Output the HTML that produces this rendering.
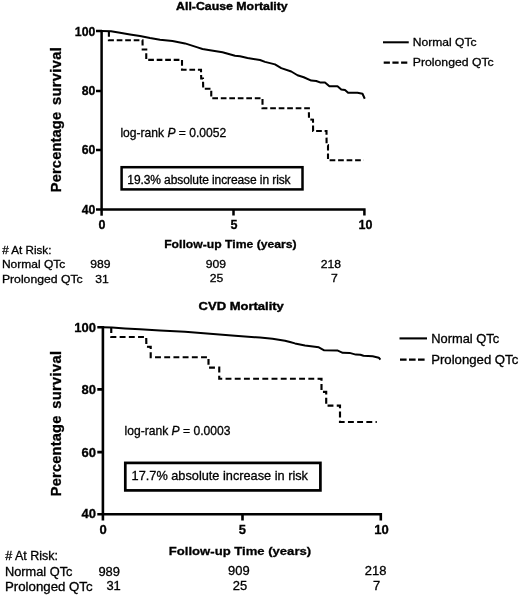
<!DOCTYPE html>
<html><head><meta charset="utf-8"><title>Survival curves</title>
<style>
html,body{margin:0;padding:0;background:#fff;}
svg{display:block;}
text{font-family:"Liberation Sans",Arial,sans-serif;fill:#000;stroke:#000;stroke-width:0.3px;}
.b{font-weight:bold;stroke:#000;stroke-width:0.4px;}
</style></head><body>
<svg width="520" height="595" viewBox="0 0 520 595">
<defs><filter id="soft" x="0" y="0" width="520" height="595" filterUnits="userSpaceOnUse"><feGaussianBlur stdDeviation="0.4"/></filter></defs>
<rect width="520" height="595" fill="#fff"/>
<g filter="url(#soft)">
<!-- TOP PANEL -->
<g id="top">
<text class="b" x="176.1" y="10.1" font-size="11.4" textLength="111.6" lengthAdjust="spacingAndGlyphs">All-Cause Mortality</text>
<g stroke="#000" stroke-width="2.5" fill="none">
<path d="M101.6,30 V215.7"/>
<path d="M96,209.5 H365.5 M233.5,209.5 V215.5 M364.4,208.5 V215.5"/>
<path d="M96,31 H102 M96,91 H102 M96,150.1 H102"/>
</g>
<g class="b" font-size="12.3" text-anchor="end">
<text x="95.4" y="35.5">100</text><text x="95.4" y="95.3">80</text><text x="95.4" y="154.4">60</text><text x="95.4" y="214">40</text>
</g>
<g class="b" font-size="12.5" text-anchor="middle">
<text x="101.9" y="229">0</text><text x="234" y="229">5</text><text x="365.5" y="229">10</text>
<text x="230.4" y="248" font-size="11.3" textLength="132.4" lengthAdjust="spacingAndGlyphs">Follow-up Time (years)</text>
</g>
<g class="b" font-size="14.6" transform="translate(61.3,192.2) rotate(-90)"><text x="0" y="0" letter-spacing="0.17">Percentage</text><text x="87.2" y="0" letter-spacing="0.38">survival</text></g>
<polyline points="101.6,31 111,31.2 120,32.8 130,34.5 140,36 150,38 160,39.7 172.5,41 185,43.4 197.5,47.4 202.5,49 210,50.2 222.5,52.2 235,55.8 240,56.3 247.5,57.9 260,60 265,61.9 275,64.4 281.25,68.1 291.25,71.5 297.5,75.25 303.75,77.25 311.25,80.6 316.25,81 320,82.4 325,82.5 329.4,86.25 337.5,86.25 341.25,89.4 345,90 348.1,92.75 357.5,92.75 362.5,93.75 364.75,98.75" fill="none" stroke="#000" stroke-width="2" stroke-linejoin="round"/>
<polyline points="108.9,31 108.9,40.2 142.5,40.2 142.7,49.5 146.25,49.5 146.25,59.9 182,59.9 182,69.7 201,69.7 201.2,78.5 203,78.5 203.2,88.7 211.25,88.7 211.25,98.2 262.5,98.2 262.5,108.3 308.85,108.3 309,119.3 313,119.7 313.1,131 326.5,131 326.6,145 328,145.2 328,160.3 363.7,160.3" fill="none" stroke="#000" stroke-width="2.1" stroke-dasharray="5.7,2.8"/>
<text x="120.4" y="137" font-size="12.1" textLength="105.8" lengthAdjust="spacing">log-rank <tspan font-style="italic">P</tspan> = 0.0052</text>
<rect x="121.6" y="167.2" width="180.9" height="22.2" fill="none" stroke="#000" stroke-width="2.5"/>
<text x="127.3" y="184.4" font-size="12" textLength="163.3" lengthAdjust="spacing">19.3% absolute increase in risk</text>
<path d="M383,42.3 H408.75" stroke="#000" stroke-width="2.05"/>
<path d="M383.7,62.6 H408" stroke="#000" stroke-width="2.05" stroke-dasharray="6.2,2.5"/>
<text x="412.8" y="46.1" font-size="11.4" textLength="63.8" lengthAdjust="spacingAndGlyphs">Normal QTc</text>
<text x="412.8" y="66.4" font-size="11.4" textLength="80.9" lengthAdjust="spacingAndGlyphs">Prolonged QTc</text>
<g>
<text x="2.2" y="254.4" font-size="11.4" textLength="49.2" lengthAdjust="spacingAndGlyphs"># At Risk:</text>
<text x="1.9" y="268.4" font-size="11.4" textLength="63.5" lengthAdjust="spacingAndGlyphs">Normal QTc</text>
<text x="1.9" y="282.8" font-size="11.4" textLength="80.8" lengthAdjust="spacingAndGlyphs">Prolonged QTc</text>
<g>
<text x="90.25" y="268.2" font-size="11.4" textLength="20.3" lengthAdjust="spacingAndGlyphs">989</text><text x="95.15" y="282.5" font-size="11.4" textLength="13.5" lengthAdjust="spacingAndGlyphs">31</text>
<text x="205.75" y="268.1" font-size="11.4" textLength="20.3" lengthAdjust="spacingAndGlyphs">909</text><text x="209.75" y="282.4" font-size="11.4" textLength="13.5" lengthAdjust="spacingAndGlyphs">25</text>
<text x="320.75" y="268.0" font-size="11.4" textLength="20.3" lengthAdjust="spacingAndGlyphs">218</text><text x="331.0" y="282.3" font-size="11.4" textLength="6.8" lengthAdjust="spacingAndGlyphs">7</text>
</g></g>
</g>
<!-- BOTTOM PANEL -->
<g id="bot">
<text class="b" x="198.6" y="310.2" font-size="11.8" textLength="85.2" lengthAdjust="spacingAndGlyphs">CVD Mortality</text>
<g stroke="#000" stroke-width="2.6" fill="none">
<path d="M102.9,326 V520.5"/>
<path d="M97.3,514.2 H382 M242.5,514.2 V520.5 M380.8,513 V520.5"/>
<path d="M97.3,327.25 H103 M97.3,389.4 H103 M97.3,452.1 H103"/>
</g>
<g class="b" font-size="13" text-anchor="end">
<text x="96" y="331.7">100</text><text x="96" y="393.9">80</text><text x="96" y="456.6">60</text><text x="96" y="518.4">40</text>
</g>
<g class="b" font-size="13" text-anchor="middle">
<text x="103.2" y="534.2">0</text><text x="242.3" y="534.2">5</text><text x="381.5" y="534.3">10</text>
<text x="240" y="554.5" font-size="11.8" textLength="142.3" lengthAdjust="spacingAndGlyphs">Follow-up Time (years)</text>
</g>
<g class="b" font-size="14.6" transform="translate(61.3,496.2) rotate(-90)"><text x="0" y="0" letter-spacing="0.2">Percentage</text><text x="87.4" y="0" letter-spacing="0.4">survival</text></g>
<polyline points="103,327.2 112,327.5 125,328.4 140,329.3 160,330.4 185,331.8 210,333.75 235,335.75 260,337.6 272.5,338.75 285,340.75 290,342 295,343.4 305,345.5 318.8,347.3 324.2,350.3 337.3,350.4 342.7,352.8 349.6,352.9 355.8,354.6 360.4,354.7 363.5,355.8 372.7,356.3 378.8,357.7 380.4,359.7" fill="none" stroke="#000" stroke-width="2" stroke-linejoin="round"/>
<polyline points="111.25,327 111.25,337 146.2,337 146.4,346.7 150.7,346.9 150.7,357.2 208.5,357.2 208.5,367.6 219.25,367.6 219.25,378.7 321.5,378.8 321.5,391.8 326.2,391.8 326.2,405.6 340,405.6 340,422 376.8,422" fill="none" stroke="#000" stroke-width="2.15" stroke-dasharray="5.9,3.3"/>
<text x="124.6" y="434.8" font-size="12.1" textLength="105.8" lengthAdjust="spacing">log-rank <tspan font-style="italic">P</tspan> = 0.0003</text>
<rect x="125.3" y="462.9" width="195.1" height="27.5" fill="none" stroke="#000" stroke-width="2.7"/>
<text x="131.6" y="480.1" font-size="12.7" textLength="176.4" lengthAdjust="spacingAndGlyphs">17.7% absolute increase in risk</text>
<path d="M399.5,338.4 H427" stroke="#000" stroke-width="2.1"/>
<path d="M400,359.6 H426" stroke="#000" stroke-width="2.1" stroke-dasharray="6.6,2.4"/>
<text x="431.2" y="342.5" font-size="11.9" textLength="67.9" lengthAdjust="spacingAndGlyphs">Normal QTc</text>
<text x="431.2" y="364.1" font-size="11.9" textLength="87.1" lengthAdjust="spacingAndGlyphs">Prolonged QTc</text>
<g>
<text x="5.2" y="560.4" font-size="12" textLength="52.8" lengthAdjust="spacingAndGlyphs"># At Risk:</text>
<text x="5.0" y="575.7" font-size="12" textLength="67.5" lengthAdjust="spacingAndGlyphs">Normal QTc</text>
<text x="5.0" y="590.6" font-size="12" textLength="87.6" lengthAdjust="spacingAndGlyphs">Prolonged QTc</text>
<g>
<text x="98.4" y="575.6" font-size="12" textLength="21.6" lengthAdjust="spacingAndGlyphs">989</text><text x="106.4" y="590.4" font-size="12" textLength="14.4" lengthAdjust="spacingAndGlyphs">31</text>
<text x="228.0" y="575.4" font-size="12" textLength="21.6" lengthAdjust="spacingAndGlyphs">909</text><text x="232.8" y="590.1" font-size="12" textLength="14.4" lengthAdjust="spacingAndGlyphs">25</text>
<text x="364.8" y="575.3" font-size="12" textLength="21.6" lengthAdjust="spacingAndGlyphs">218</text><text x="373.0" y="590.0" font-size="12" textLength="7.2" lengthAdjust="spacingAndGlyphs">7</text>
</g></g>
</g>
</g>
</svg>
</body></html>
